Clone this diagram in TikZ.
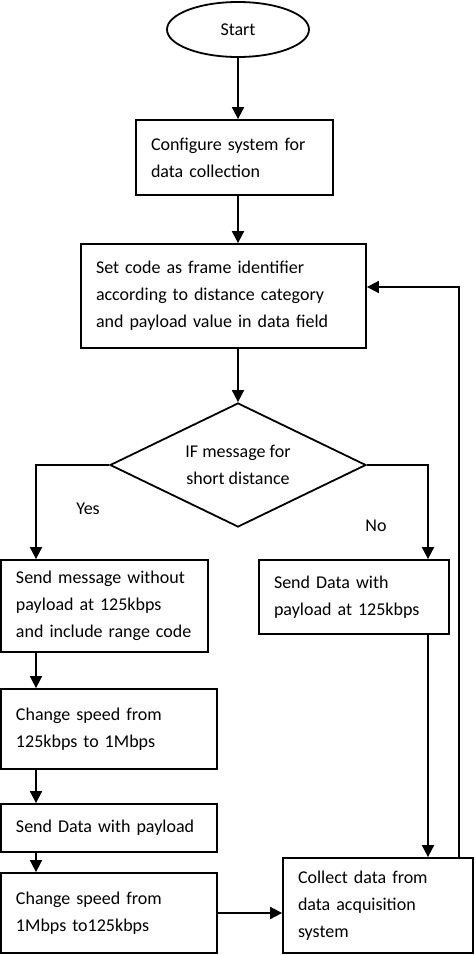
\documentclass[tikz,border=0pt]{standalone}
\usepackage{fontspec}
\setmainfont{Carlito}
\usetikzlibrary{shapes.geometric,arrows.meta}
\begin{document}
\begin{tikzpicture}[x=1pt,y=-1pt,
  every node/.style={font=\fontsize{18}{27}\selectfont},
  line/.style={line width=1.8pt},
  arr/.style={line width=1.8pt,-{Triangle[width=12pt,length=12pt]}},
  box/.style={draw,line width=1.8pt,rectangle,align=left,inner xsep=15pt,inner ysep=0pt},
  lbl/.style={inner sep=0pt}]
\useasboundingbox (0,0) rectangle (474,955);
\fill[white] (0,0) rectangle (474,955);
\node[draw,line width=1.8pt,ellipse,minimum width=142pt,minimum height=55pt,inner sep=0pt] (start) at (238,29.5) {Start};
\node[box,minimum width=197pt,minimum height=75pt,text width=167pt] (b1) at (234.5,157.5) {Configure system for\\data collection};
\node[box,minimum width=285pt,minimum height=104pt,text width=255pt] (b2) at (223.5,296) {Set code as frame identifier\\according to distance category\\and payload value in data field};
\node[draw,line width=1.8pt,diamond,aspect=2,minimum width=256pt,minimum height=124pt,inner sep=0pt,align=center] (d) at (238,465) {IF message for\\short distance};
\node[box,minimum width=207pt,minimum height=92pt,text width=177pt] (L1) at (104.5,606) {Send message without\\payload at 125kbps\\and include range code};
\node[box,minimum width=190pt,minimum height=74pt,text width=160pt] (R1) at (354,597) {Send Data with\\payload at 125kbps};
\node[box,minimum width=216pt,minimum height=80pt,text width=186pt] (L2) at (109,729) {Change speed from\\125kbps to 1Mbps};
\node[box,minimum width=216pt,minimum height=48pt,text width=186pt] (L3) at (109,828) {Send Data with payload};
\node[box,minimum width=216pt,minimum height=80pt,text width=186pt] (L4) at (109,913) {Change speed from\\1Mbps to125kbps};
\node[box,minimum width=190pt,minimum height=95pt,text width=160pt] (C) at (378,905.5) {Collect data from\\data acquisition\\system};
\node[lbl] (yes) at (88,509) {Yes};
\node[lbl] (no) at (376,526) {No};
\coordinate (lx) at (36,0);
\coordinate (rx) at (428,0);
\coordinate (fx) at (459,0);
\coordinate (fy) at (0,287);
\draw[arr] (start.south) -- (start.south |- b1.north);
\draw[arr] (start.south |- b1.south) -- (start.south |- b2.north);
\draw[arr] (start.south |- b2.south) -- (d.north);
\draw[arr] (d.west) -| (lx |- L1.north);
\draw[arr] (d.east) -| (rx |- R1.north);
\draw[arr] (lx |- L1.south) -- (lx |- L2.north);
\draw[arr] (lx |- L2.south) -- (lx |- L3.north);
\draw[arr] (lx |- L3.south) -- (lx |- L4.north);
\draw[arr] (L4.east) -- (C.west |- L4.east);
\draw[arr] (rx |- R1.south) -- (rx |- C.north);
\draw[arr] (fx |- C.north) |- (b2.east |- fy);
\end{tikzpicture}
\end{document}
